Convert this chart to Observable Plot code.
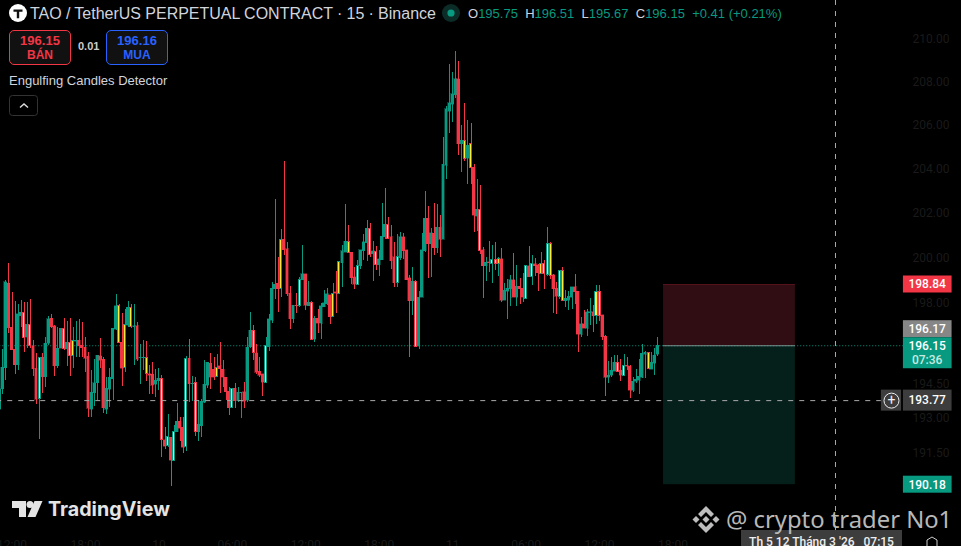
<!DOCTYPE html>
<html><head><meta charset="utf-8">
<script src="https://cdn.jsdelivr.net/npm/d3@7"></script>
<script src="https://cdn.jsdelivr.net/npm/@observablehq/plot@0.6"></script>
<style>
html,body{margin:0;padding:0;background:#000;overflow:hidden}
#wrap{position:relative;width:961px;height:546px;background:#000;overflow:hidden;font-family:"Liberation Sans",Arial,sans-serif}
#wrap svg.plot{position:absolute;left:0;top:0}
.o{position:absolute;white-space:nowrap}
.chip{position:absolute;top:30px;width:60px;height:33px;border-radius:5px;background:#111;text-align:center;font-size:14px;font-family:"Liberation Sans";font-weight:700}
.chip div{line-height:14px}
</style></head><body><div id="wrap"></div>
<script>
const opens=[193.38,194.26,195.17,198.87,196.93,195.98,195.30,197.43,197.59,196.49,
197.06,196.13,195.14,193.84,195.62,194.78,196.23,197.34,197.00,195.25,
196.02,196.90,195.99,196.27,195.70,196.33,196.36,196.16,196.07,195.67,
193.38,194.08,194.52,195.70,195.54,193.38,194.24,194.69,196.84,197.87,
196.29,195.17,197.03,197.81,196.96,197.00,195.60,195.60,195.63,194.92,
194.89,194.46,194.60,194.71,192.08,191.81,192.18,191.20,192.41,192.87,
192.61,191.77,195.59,194.47,194.53,192.41,192.67,193.67,194.42,195.37,
195.11,194.78,195.25,195.11,194.76,194.16,193.44,194.29,193.74,194.08,
194.14,193.77,196.08,196.81,195.82,195.02,194.91,194.55,196.08,197.25,
198.62,198.87,198.65,200.84,200.40,198.43,197.30,197.91,197.87,199.02,
199.29,197.88,198.04,196.42,197.34,197.12,197.84,197.96,198.37,197.40,
198.49,198.40,199.79,200.26,200.75,200.26,199.15,198.84,199.64,200.31,
200.68,201.33,200.19,200.28,199.69,199.91,200.93,201.50,200.93,200.04,
198.89,200.00,200.93,200.35,199.11,198.09,198.97,196.11,198.26,200.31,
201.77,200.62,201.09,200.44,201.37,200.84,204.17,206.64,206.94,207.38,
208.12,205.13,205.31,204.49,205.13,204.08,201.86,202.18,200.35,199.64,
199.82,199.74,199.91,199.74,199.95,198.13,198.53,198.62,199.02,198.26,
198.75,198.66,198.22,199.64,199.15,199.73,199.69,199.31,199.73,199.27,
200.66,199.24,198.66,198.31,199.42,198.09,198.13,198.26,198.71,198.53,
196.64,197.08,196.90,197.58,197.61,197.43,198.53,197.48,196.55,194.76,
194.85,195.02,195.41,195.07,194.85,195.28,195.24,194.20,194.59,194.63,
194.76,195.76,195.85,195.11,195.37,195.75];
const closes=[194.26,195.20,198.94,196.92,195.96,195.30,197.52,197.59,196.49,197.06,
196.13,195.12,193.81,195.62,194.78,196.23,197.30,196.96,195.25,196.02,
196.90,195.99,196.27,195.72,196.36,196.36,196.13,196.05,195.59,193.43,
194.11,194.53,195.72,195.50,193.44,194.29,194.76,196.90,197.87,196.26,
195.15,197.06,197.81,196.96,197.00,195.54,195.63,195.63,194.91,194.85,
194.42,194.63,194.71,192.08,191.80,192.21,191.20,192.43,192.87,192.56,
191.75,195.57,194.47,194.50,192.41,192.74,193.73,194.46,195.41,194.75,
194.76,195.18,195.12,194.75,194.14,193.44,194.27,193.74,194.11,194.11,
193.73,196.07,196.81,195.82,194.97,194.85,194.55,196.13,197.30,198.65,
198.84,198.62,200.84,200.35,198.40,197.30,197.91,197.88,199.05,199.29,
197.91,198.04,196.42,197.34,197.12,197.88,198.01,198.40,197.40,198.43,
198.44,199.82,200.31,200.75,200.23,199.11,198.84,199.67,200.35,200.71,
201.33,200.17,200.31,199.69,199.95,200.97,201.50,200.88,199.86,198.89,
200.04,200.93,200.31,199.02,198.09,198.97,196.11,198.26,200.35,201.77,
200.62,201.11,200.44,201.37,200.84,204.20,206.74,207.01,207.43,208.12,
205.13,205.31,204.49,205.08,204.05,201.90,202.18,200.31,199.64,199.80,
199.79,199.91,199.74,199.95,198.13,198.57,198.66,199.02,198.26,198.75,
198.62,198.26,199.64,199.15,199.73,199.64,199.33,199.73,199.30,200.66,
199.20,198.62,198.31,199.42,198.09,198.22,198.31,198.71,198.49,196.64,
197.08,196.90,197.61,197.61,197.43,198.49,197.43,196.51,194.76,194.85,
195.07,195.41,195.02,194.85,195.28,195.24,194.20,194.59,194.68,194.81,
195.80,195.85,195.15,195.41,195.72,196.15];
const highs=[194.49,195.98,199.02,199.76,198.49,198.09,197.96,198.13,198.03,198.06,
198.16,196.40,195.83,195.62,195.83,196.51,197.43,197.52,197.03,196.96,
196.90,197.33,197.22,197.33,196.93,197.21,197.30,197.17,196.51,195.86,
195.07,195.57,195.72,196.46,195.65,194.76,195.14,196.90,198.40,197.96,
197.58,197.74,198.09,197.96,197.96,197.15,196.20,196.38,196.33,195.28,
195.41,195.10,195.15,194.85,192.63,193.17,192.18,192.70,193.64,193.06,
193.03,195.67,196.42,194.81,194.76,193.77,193.84,195.50,195.41,195.83,
195.65,195.75,196.27,195.50,194.76,194.34,194.31,194.49,194.34,194.11,
194.55,196.52,197.59,197.03,196.20,195.65,194.92,196.52,197.52,198.93,
202.63,200.04,201.28,204.35,200.71,198.75,197.91,198.43,199.17,200.57,
199.29,198.97,198.10,197.43,197.74,197.98,198.57,198.66,198.37,198.89,
199.42,199.85,200.57,202.41,201.46,200.26,199.61,199.91,200.35,201.06,
201.69,201.55,200.75,200.53,200.35,202.45,203.13,201.82,201.46,200.72,
201.06,201.15,201.11,200.35,199.24,199.60,199.02,198.53,201.11,202.99,
202.32,201.33,202.44,202.41,201.90,205.46,206.87,208.82,208.45,209.42,
208.96,205.99,207.01,206.23,206.09,204.22,203.54,203.27,200.48,200.04,
200.75,200.57,200.71,200.04,200.44,198.89,199.06,199.24,200.22,199.69,
199.11,199.33,199.69,200.53,200.13,200.00,199.73,200.26,199.91,201.37,
200.71,199.29,198.93,199.42,199.60,198.57,198.53,198.71,199.29,198.53,
197.39,197.69,197.74,198.22,197.91,198.80,198.80,197.48,196.60,195.46,
195.63,195.72,195.72,195.54,195.76,195.63,195.28,194.76,195.11,195.54,
196.20,195.89,195.85,195.85,196.02,196.51];
const lows=[193.38,194.05,194.63,196.67,195.93,194.89,195.07,196.96,195.86,196.01,
196.01,194.82,193.61,192.10,194.08,194.34,196.16,196.89,194.82,195.14,
196.01,195.93,195.24,194.81,195.14,195.65,195.62,195.65,195.00,193.06,
193.06,193.53,193.77,195.14,193.20,193.17,193.49,193.77,196.81,196.23,
194.37,194.97,196.96,196.89,195.28,195.46,194.46,195.07,194.60,194.04,
194.03,193.91,194.20,191.33,191.67,191.77,190.10,191.20,192.41,192.03,
191.51,191.60,193.70,193.74,192.24,192.03,192.20,193.63,194.31,194.27,
194.63,194.78,194.08,194.34,193.77,193.13,193.41,193.44,193.70,193.01,
193.41,193.70,196.01,195.50,194.89,194.78,193.94,194.55,195.90,197.14,
198.16,197.61,198.28,200.13,198.32,196.86,197.11,197.58,197.81,199.02,
197.69,197.88,196.38,196.30,196.67,196.42,197.81,197.90,197.08,197.40,
197.58,198.40,198.71,200.26,200.23,198.83,198.63,198.81,199.51,199.91,
199.86,200.06,198.97,199.46,199.20,199.91,200.84,200.88,199.51,198.71,
198.71,199.91,199.95,199.02,195.63,197.48,196.07,195.98,198.26,200.26,
199.11,199.15,200.13,200.23,200.04,200.84,203.54,205.63,206.15,207.24,
204.63,203.85,204.35,203.31,203.31,201.15,201.20,200.17,198.22,198.97,
199.37,198.89,199.46,199.20,198.04,198.13,197.30,197.87,198.26,197.87,
197.96,198.04,198.22,199.15,198.80,199.20,198.53,199.31,198.62,199.20,
199.06,197.56,197.52,198.18,198.09,197.83,197.69,197.74,197.96,195.85,
196.51,196.90,196.55,197.03,196.73,197.08,197.21,196.38,193.94,194.50,
194.76,195.02,195.02,194.59,194.85,195.07,193.86,194.11,194.50,194.03,
194.72,194.72,195.11,195.11,194.85,195.67];
const engulfing=[8,10,13,21,23,24,39,41,43,48,53,55,57,61,64,71,76,83,87,92,98,102,109,111,114,117,121,123,127,130,136,152,154,157,161,162,163,172,174,177,178,179,180,183,184,195,196,202,204,212];
const priceTicks=[210,208,206,204,202,200,198,196,194.5,193,191.5];
const timeTickAt=[4,28,52,76,100,124,148,172,196,220];
const timeTickLabel=["12:00","18:00","10","06:00","12:00","18:00","11","06:00","12:00","18:00"];
const lastPrice=196.15, cursorPrice=193.77, stopPrice=198.84, targetPrice=190.18, markPrice=196.17;
const boxStart=216.9, boxEnd=260, cursorBar=273.1;
const axisLeft=295.3, axisRight=311.2, plusLeft=288.1, plusRight=294.7;

const GREEN="#089981", RED="#f23645", YELLOW="#ffeb3b", TAG="Roboto";
const n=opens.length, idx=d3.range(n);
const isEng=new Set(engulfing);
const col=i=>closes[i]>=opens[i]?GREEN:RED;
const plain=idx.filter(i=>!isEng.has(i));
const eng=idx.filter(i=>isEng.has(i));

const tag=(price,label,fill,top,bottom,color,dy)=>[
  Plot.rect([price],{x1:axisLeft,x2:axisRight,y1:d=>d,y2:d=>d,fill,insetTop:top,insetBottom:bottom}),
  Plot.text([label],{x:(axisLeft+axisRight)/2-0.2,y:()=>price,text:d=>d,fill:color,fontSize:12,fontWeight:500,fontFamily:TAG,dy:dy||0})
];

const chart=Plot.plot({
  width:961,height:546,
  marginLeft:0,marginTop:0,marginRight:50,marginBottom:6,
  style:{background:"#000",fontFamily:"Roboto, sans-serif"},
  x:{type:"linear",domain:[0,215],range:[-0.7,657.2],axis:null},
  y:{type:"log",domain:[210,targetPrice],range:[38.5,484.2],axis:null},
  marks:[
    Plot.axisY(priceTicks,{anchor:"right",tickSize:0,tickPadding:1,tickFormat:d=>d.toFixed(2),fill:"#1a1a1a",fontSize:12,fontFamily:TAG}),
    Plot.axisX(timeTickAt,{anchor:"bottom",tickSize:0,tickPadding:0,tickFormat:d=>timeTickLabel[timeTickAt.indexOf(d)],fill:"#1a1a1a",fontSize:12,fontFamily:TAG,lineAnchor:"top",label:null}),
    Plot.rect([0],{x1:boxStart,x2:boxEnd,y1:stopPrice,y2:lastPrice,fill:"#2f0d12"}),
    Plot.rect([0],{x1:boxStart,x2:boxEnd,y1:lastPrice,y2:targetPrice,fill:"#051f1b"}),
    Plot.ruleY([stopPrice],{x1:boxStart,x2:boxEnd,stroke:"#56121b",strokeWidth:1}),
    Plot.ruleY([lastPrice],{x1:-1,x2:axisLeft,stroke:GREEN,strokeWidth:1,strokeDasharray:"1 2"}),
    Plot.ruleY([lastPrice],{x1:boxStart,x2:boxEnd,stroke:"#7f8f8c",strokeWidth:1}),
    Plot.ruleX([cursorBar],{stroke:"#aaa",strokeWidth:1,strokeDasharray:"5 6"}),
    Plot.ruleX(idx,{x:i=>i,y1:i=>lows[i],y2:i=>highs[i],stroke:col,strokeWidth:1,shapeRendering:"crispEdges"}),
    Plot.rect(plain,{x1:i=>i-0.47,x2:i=>i+0.47,y1:i=>opens[i],y2:i=>closes[i],fill:col,stroke:col,strokeWidth:0.4,shapeRendering:"crispEdges"}),
    Plot.rect(eng,{x1:i=>i-0.33,x2:i=>i+0.33,y1:i=>opens[i],y2:i=>closes[i],fill:YELLOW,stroke:col,strokeWidth:1,shapeRendering:"crispEdges"}),
    Plot.ruleY([cursorPrice],{x1:-1,x2:plusLeft,stroke:"#aaa",strokeWidth:1,strokeDasharray:"5 6"}),
    ...tag(stopPrice,"198.84",RED,-8.5,-8.5,"#fff"),
    ...tag(markPrice,"196.17","#868686",-24.6,7.6,"#fff",-16),
    ...tag(lastPrice,"196.15",GREEN,-8,-23,"#fff"),
    Plot.text(["07:36"],{x:(axisLeft+axisRight)/2-0.2,y:()=>lastPrice,text:d=>d,fill:"#c5ebe2",fontSize:12,fontWeight:500,fontFamily:TAG,dy:14.5}),
    ...tag(cursorPrice,"193.77","#3d3d3d",-10.5,-10.5,"#fff"),
    Plot.rect([cursorPrice],{x1:plusLeft,x2:plusRight,y1:d=>d,y2:d=>d,fill:"#3d3d3d",insetTop:-10.5,insetBottom:-10.5}),
    Plot.dot([cursorPrice],{x:(plusLeft+plusRight)/2,y:d=>d,r:7.5,stroke:"#eee",fill:"none",strokeWidth:1}),
    Plot.text(["+"],{x:(plusLeft+plusRight)/2,y:()=>cursorPrice,text:d=>d,fill:"#eee",fontSize:14}),
    ...tag(targetPrice,"190.18",GREEN,-8.5,-8.5,"#fff")
  ]
});
const wrap=document.getElementById("wrap");
wrap.appendChild(chart);
wrap.insertAdjacentHTML("beforeend",`
<svg class="o" style="left:0;top:0" width="961" height="546">
  <circle cx="18" cy="13" r="9" fill="#fff"/>
  <path d="M13.500 9.500h9v2.200h-3.300v6.600h-2.400v-6.600h-3.300z" fill="#111"/>
  <circle cx="451" cy="13" r="9" fill="#0c2c28"/><circle cx="451" cy="13" r="3.600" fill="${GREEN}"/>
  <rect x="9.500" y="95.500" width="28" height="20" rx="3" fill="none" stroke="#333"/>
  <path d="M20 107.500l4-3.500 4 3.500" stroke="#ddd" stroke-width="1.400" fill="none"/>
  <g fill="#e4e4e4">
    <path d="M12 501h14v16h-7v-9h-7z"/><circle cx="30" cy="504.500" r="3.500"/><path d="M34.500 501h8l-7 16h-8z"/>
  </g>
  <rect x="741" y="530" width="161" height="16" fill="#3d3d3d"/>
  <g fill="#bdbdbd">
    <path d="M706 506l8 8-3 3-5-5-5 5-3-3z"/>
    <path d="M706 533l8-8-3-3-5 5-5-5-3 3z"/>
    <path d="M692.500 519.500l3.500-3.500 3.500 3.500-3.500 3.500z"/><path d="M712.500 519.500l3.500-3.500 3.500 3.500-3.500 3.500z"/>
    <path d="M706 516l3.500 3.500-3.500 3.500-3.500-3.500z"/>
  </g>
  <path d="M932 537l5 3v7h-10v-7z" fill="none" stroke="#ccc"/>
</svg>
<div class="o" style="left:30px;top:3.500px;font-size:16px;line-height:20px;color:#d1d4dc;word-spacing:-0.2px">TAO / TetherUS PERPETUAL CONTRACT · 15 · Binance</div>
<div class="o" style="left:468px;top:6px;font-size:13px;line-height:16px;color:${GREEN}"><span style="color:#d1d4dc">O</span>195.75 &nbsp;<span style="color:#d1d4dc">H</span>196.51 &nbsp;<span style="color:#d1d4dc">L</span>195.67 &nbsp;<span style="color:#d1d4dc">C</span>196.15 &nbsp;+0.41 (+0.21%)</div>
<div class="chip" style="left:9px;border:1px solid ${RED};color:${RED}"><div style="margin-top:3px;font-size:13px">196.15</div><div style="font-size:12px">BÁN</div></div>
<div class="chip" style="left:106px;border:1px solid #2962ff;color:#2962ff"><div style="margin-top:3px;font-size:13px">196.16</div><div style="font-size:12px">MUA</div></div>
<div class="o" style="left:78px;top:40px;font-size:11px;font-weight:700;color:#ccc">0.01</div>
<div class="o" style="left:9px;top:73px;font-size:13px;line-height:16px;color:#d1d4dc">Engulfing Candles Detector</div>
<div class="o" style="left:48px;top:495px;font-size:19.700px;line-height:28px;font-weight:700;color:#e4e4e4;font-family:Inter,'Liberation Sans'">TradingView</div>
<div class="o" style="left:726px;top:503px;font-size:23.800px;line-height:32px;color:#b8b8b8;font-family:'Noto Sans'">@ crypto trader No1</div>
<div class="o" style="left:741px;top:534px;width:161px;text-align:center;font-size:12px;line-height:16px;font-weight:500;color:#eee;font-family:Roboto">Th 5 12 Tháng 3 '26 &nbsp; 07:15</div>
`);
</script></body></html>
